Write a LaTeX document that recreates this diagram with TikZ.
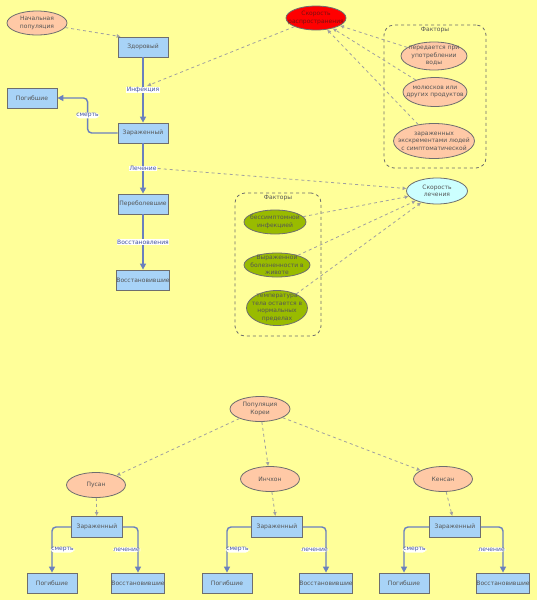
\documentclass[tikz,border=0pt]{standalone}
\usepackage{fontspec}
\setmainfont{DejaVu Sans}
\usetikzlibrary{shapes.geometric,arrows.meta}

\definecolor{bgyellow}{HTML}{FFFF99}
\definecolor{boxblue}{HTML}{A8D3F7}
\definecolor{edgegray}{HTML}{6E6E6E}
\definecolor{flowblue}{HTML}{6A80BE}
\definecolor{peach}{HTML}{FFC9A6}
\definecolor{olive}{HTML}{99BB00}
\definecolor{palecyan}{HTML}{CCFFFF}
\definecolor{dashgray}{HTML}{A0A0A0}
\definecolor{txtgray}{HTML}{555555}
\definecolor{lblblue}{HTML}{3F50A0}
\definecolor{darkred}{HTML}{7A1010}

\newcommand\diafont{\fontsize{6}{7.5}\selectfont}

\tikzset{
  box/.style={draw=edgegray, fill=boxblue, thick, minimum width=50pt, minimum height=20pt, inner sep=0pt},
  oval/.style={ellipse, draw=edgegray, thick, inner sep=0pt},
  txt/.style={align=center, inner sep=0pt},
  group/.style={draw=edgegray, thick, dashed, rounded corners=10pt, minimum width=#1},
  flow/.style={draw=flowblue, line width=1.4pt, -{Triangle[width=6pt,length=6pt]}},
  influence/.style={draw=dashgray, thick, dashed, -{Latex[length=4pt,width=4pt]}},
  lbl/.style={fill=white, text=lblblue, inner sep=0.6pt},
}

\begin{document}
\begin{tikzpicture}[x=1pt, y=-1pt, every node/.style={font=\diafont, text=txtgray}]
  \fill[bgyellow] (0,0) rectangle (537,600);
  \useasboundingbox (0,0) rectangle (537,600);

  % upper chain
  \node[oval, fill=peach, minimum width=60pt, minimum height=24pt] (start) at (37,23) {};
  \node[txt] at (start) {Начальная\\популяция};
  \node[box] (zdor) at (143,47) {Здоровый};
  \node[box] (dead) at (32,98) {Погибшие};
  \node[box] (zar) at (143,133) {Зараженный};
  \node[box] (perb) at (143,204) {Переболевшие};
  \node[box] (recov) at (143,280) {Восстановившие};

  \draw[influence] (start) -- (zdor.155);
  \draw[flow] (zdor) -- node[lbl] (inf) {Инфекция} (zar);
  \draw[flow, rounded corners=4pt] (zar.west) -- ++(-30,0) |- node[pos=0.25, lbl] {смерть} (dead.east);
  \draw[flow] (zar) -- node[lbl] (cur) {Лечение} (perb);
  \draw[flow] (perb) -- node[lbl] {Восстановления} (recov);

  % spread rate and its factors
  \node[oval, fill=red, minimum width=60pt, minimum height=24pt] (spread) at (316,18) {};
  \node[txt, text=darkred] at (spread) {Скорость\\распространения};
  \node[group=102pt, minimum height=143pt] (grpA) at (435,96.5) {};
  \node[txt, anchor=north] at ([yshift=-2pt]grpA.north) {Факторы};
  \node[oval, fill=peach, minimum width=66pt, minimum height=28pt] (fa) at (434,56) {};
  \node[txt] at (fa) {передается при\\употреблении\\воды};
  \node[oval, fill=peach, minimum width=64pt, minimum height=29pt] (fb) at (435,92) {};
  \node[txt] at (fb) {молюсков или\\других продуктов};
  \node[oval, fill=peach, minimum width=81pt, minimum height=35pt] (fc) at (434,141) {};
  \node[txt] at (fc) {зараженных\\экскрементами людей\\с симптоматической};

  \draw[influence] (spread) -- ([xshift=4pt]inf.north);
  \foreach \f in {fa,fb,fc}
    \draw[influence] (\f) -- (spread);

  % cure rate and its factors
  \node[oval, fill=palecyan, minimum width=61pt, minimum height=26pt] (cure) at (437,191) {};
  \node[txt] at (cure) {Скорость\\лечения};
  \node[group=86pt, minimum height=143pt] (grpB) at (278,264.5) {};
  \node[txt, anchor=north] at ([yshift=-2pt]grpB.north) {Факторы};
  \node[oval, fill=olive, minimum width=62pt, minimum height=24pt] (ga) at (275,222) {};
  \node[txt] at (ga) {бессимптомной\\инфекцией};
  \node[oval, fill=olive, minimum width=66pt, minimum height=24pt] (gb) at (277,265) {};
  \node[txt] at (gb) {Выраженной\\болезненности в\\животе};
  \node[oval, fill=olive, minimum width=61pt, minimum height=35pt] (gc) at (277,308) {};
  \node[txt] at (gc) {температура\\тела остается в\\нормальных\\пределах};

  \draw[influence] (cur.east) -- (cure);
  \foreach \g in {ga,gb,gc}
    \draw[influence] (\g) -- (cure);

  % regions of Korea
  \node[oval, fill=peach, minimum width=60pt, minimum height=25pt] (korea) at (260,409) {};
  \node[txt] at (korea) {Популяция\\Кореи};
  \foreach \name/\city/\x/\y in {pusan/Пусан/96/485, inch/Инчхон/270/479, kens/Кенсан/443/479} {
    \node[oval, fill=peach, minimum width=59pt, minimum height=25pt] (\name) at (\x,\y) {\city};
    \draw[influence] (korea) -- (\name);
  }

  \foreach \name/\zx/\dx/\rx in {pusan/97/52/138, inch/277/227/326, kens/455/404/503} {
    \node[box, minimum width=51pt, minimum height=21pt] (z\name) at (\zx,527) {Зараженный};
    \node[box] (d\name) at (\dx,583) {Погибшие};
    \node[box, minimum width=52pt] (r\name) at (\rx,583) {Восстановившие};
    \draw[influence] (\name) -- (z\name);
    \draw[flow, rounded corners=4pt] (z\name.west) -| node[pos=0.75, lbl, anchor=west, xshift=-2pt] {смерть} (d\name.north);
    \draw[flow, rounded corners=4pt] (z\name.east) -| node[pos=0.75, lbl, anchor=east, xshift=3pt] {лечение} (r\name.north);
  }
\end{tikzpicture}
\end{document}
